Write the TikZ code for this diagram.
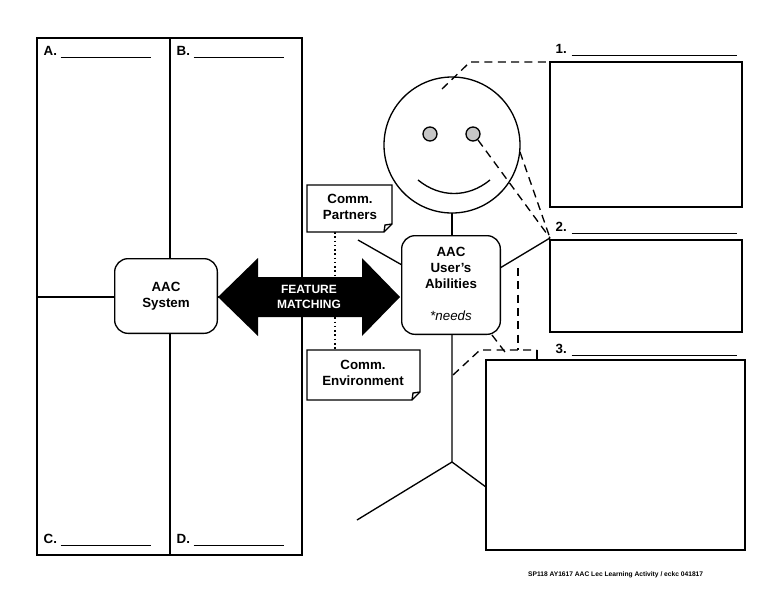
\documentclass[tikz,border=0pt]{standalone}
\usepackage{fontspec}
\setmainfont{Liberation Sans}
\begin{document}
\begin{tikzpicture}[x=0.75pt,y=-0.75pt,line width=1pt,
 rbox/.style={draw,rounded corners=10pt,fill=white,align=center,font=\bfseries},
 dsh/.style={dashed,dash pattern=on 6pt off 4pt},
 lab/.style={anchor=west,font=\bfseries,inner sep=0}]
\useasboundingbox (0,0) rectangle (768,594);
% left frame
\draw (37,38) rectangle (302,555);
\draw (170,38) -- (170,555);
\draw (37,297) -- (302,297);
\node[lab] (la) at (43,52) {A. \rule[-1pt]{68pt}{0.5pt}};
\node[lab] (lb) at (176,52) {B. \rule[-1pt]{68pt}{0.5pt}};
\node[lab] (lc) at (43,540) {C. \rule[-1pt]{68pt}{0.5pt}};
\node[lab] (ld) at (176,540) {D. \rule[-1pt]{68pt}{0.5pt}};
\node[rbox,minimum width=77pt,minimum height=56pt] (sys) at (166,296) {AAC\\System};
\draw[dotted,line width=1.2pt] (335,232) -- (335,350);
% arrow
\fill (218,297) -- (258,258) -- (258,277) -- (362,277) -- (362,258) -- (400,297) -- (362,336) -- (362,317) -- (258,317) -- (258,336) -- cycle;
\node[white,font=\bfseries\small,align=center] (fm) at (309,297) {FEATURE\\MATCHING};
% figure
\coordinate (hc) at (452,145);
\draw (hc) circle[radius=68];
\fill[gray!45,draw=black] (430,134) circle[radius=7] (473,134) circle[radius=7];
\draw (418,180) .. controls (440,198) and (468,198) .. (490,180);
\draw (452,213) -- (452,236);
\draw (452,335) -- (452,462) -- (357,520);
\draw (452,462) -- (490,490);
\draw (402,265) -- (358,240);
\draw (500,268) -- (550,238);
\node[rbox,minimum width=74pt,minimum height=74pt,text depth=26pt] (usr) at (451,285) {AAC\\User's\\Abilities};
\node[font=\itshape] (nd) at (451,316) {*needs};
% notes
\draw[fill=white] (307,185) -- (392,185) -- (392,224) -- (384,232) -- (307,232) -- cycle;
\draw (384,232) -- (385,225) -- (392,224);
\node[font=\bfseries,align=center] (cp) at (350,207) {Comm.\\Partners};
\draw[fill=white] (307,350) -- (420,350) -- (420,392) -- (412,400) -- (307,400) -- cycle;
\draw (412,400) -- (413,393) -- (420,392);
\node[font=\bfseries,align=center] (ce) at (363,373) {Comm.\\Environment};
% right boxes
\draw (550,62) rectangle (742,207);
\draw (550,240) rectangle (742,332);
\draw[fill=white] (486,360) rectangle (745,550);
\node[lab] (l1) at (555,50) {1. \rule[-1pt]{124pt}{0.5pt}};
\node[lab] (l2) at (555,228) {2. \rule[-1pt]{124pt}{0.5pt}};
\node[lab] (l3) at (555,350) {3. \rule[-1pt]{124pt}{0.5pt}};
% dashed
\draw[dsh] (442,89) -- (470,62) -- (550,62);
\draw[dsh] (478,140) -- (550,238);
\draw[dsh] (520,152) -- (550,238);
\draw[dsh] (518,268) -- (518,350);
\draw[dsh] (492,335) -- (505,352);
\draw[dsh] (453,375) -- (480,350) -- (537,350);
\draw (537,350) -- (537,360);
\node[font=\tiny\bfseries,anchor=west] (ft) at (523,575) {SP118 AY1617 AAC Lec Learning Activity / eckc 041817};
\end{tikzpicture}
\end{document}
